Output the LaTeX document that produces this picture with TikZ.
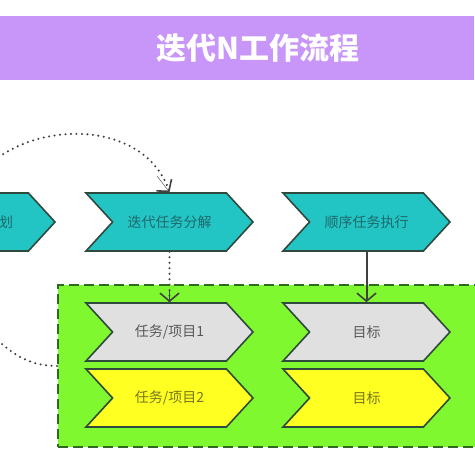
\documentclass[tikz,border=0pt]{standalone}
\usepackage{fontspec}
\newfontfamily\cjk{Noto Sans CJK SC}
\usepackage{tikz}
\usetikzlibrary{shapes.symbols,arrows.meta,positioning}
\definecolor{titlebg}{HTML}{C896F8}
\definecolor{tealfill}{HTML}{22C4C4}
\definecolor{tealtext}{HTML}{1F6A6C}
\definecolor{grayfill}{HTML}{E0E0E0}
\definecolor{yellowfill}{HTML}{FFFF22}
\definecolor{yellowtext}{HTML}{77771E}
\definecolor{boxfill}{HTML}{80F830}
\definecolor{boxline}{HTML}{2D6A1F}
\definecolor{edge}{HTML}{2F4A3C}
\tikzstyle{chev} = [signal, signal from=west, signal to=east, signal pointer angle=95, minimum width=167pt, minimum height=58pt, inner sep=0pt, draw=edge, line width=1.6pt, font=\cjk\fontsize{14}{16}\selectfont]
\tikzstyle{tealchev} = [chev, fill=tealfill, text=tealtext]
\tikzstyle{graychev} = [chev, fill=grayfill, text=black!65]
\tikzstyle{yellowchev} = [chev, fill=yellowfill, text=yellowtext]
\tikzstyle{dotline} = [line width=2.3pt, dash pattern=on 0pt off 5.5pt, line cap=round, draw=black!75]
\tikzstyle{arrow} = [-{Straight Barb[length=8pt,width=19pt,line width=1.6pt]}, draw=black!75]

\begin{document}
\begin{tikzpicture}[x=1pt, y=-1pt]
            \useasboundingbox (0,0) rectangle (474,476);
            % title band
            \fill[titlebg] (0,16) rectangle (474,80);
            \node[text=white, font=\cjk\bfseries\fontsize{30}{33}\selectfont] (title) at (258,48) {迭代N工作流程};

            % iteration box
            \node[draw=boxline, fill=boxfill, line width=2pt, dash pattern=on 10pt off 5pt, minimum width=432pt, minimum height=162pt] (iterbox) at (274,366) {};

            % top row
            \node[tealchev] (plan) at (-28.5,222) {};
            \node[text=tealtext, font=\cjk\fontsize{14}{16}\selectfont] (plantext) at (6,222) {划};
            \node[tealchev] (decomp) at (169.5,222) {迭代任务分解};
            \node[tealchev] (exec) at (366.5,222) {顺序任务执行};

            % inside box
            \node[graychev] (task1) at (169.5,332) {任务/项目1};
            \node[yellowchev] (task2) at (169.5,398) {任务/项目2};
            \node[graychev] (goal1) at (366.5,332) {目标};
            \node[yellowchev] (goal2) at (366.5,398) {目标};

            % connectors
            \coordinate (loopstart) at (-25,180);
            \coordinate (loopend) at (-30,310);
            \draw[dotline] (loopstart) .. controls (20,118) and (145,115) .. (decomp.north);
            \draw[arrow] (157,176) -- (decomp.north);
            \draw[dotline] (decomp.south) -- (task1.north);
            \draw[arrow] (169.5,290) -- (task1.north);
            \draw[arrow, line width=2pt] (exec.south) -- (goal1.north);
            \draw[dotline] (iterbox.west) .. controls (20,366) and (0,345) .. (loopend);
            \end{tikzpicture}
\end{document}
